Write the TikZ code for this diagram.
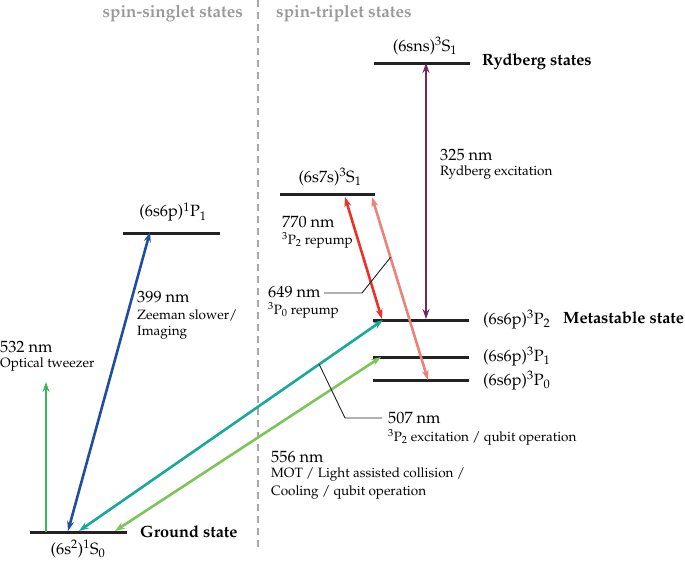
\documentclass[tikz,border=0pt]{standalone}
\usepackage[T1]{fontenc}
\usepackage{mathpazo}
\usetikzlibrary{arrows.meta}
\definecolor{levelc}{HTML}{222222}
\definecolor{headc}{HTML}{9A9A9A}
\definecolor{dashc}{HTML}{A8A8A8}
\definecolor{purplec}{HTML}{6E2A63}
\definecolor{redc}{HTML}{E8322B}
\definecolor{salmonc}{HTML}{E8847A}
\definecolor{bluec}{HTML}{1F4F9C}
\definecolor{tealc}{HTML}{17AA98}
\definecolor{lgreenc}{HTML}{7DC55A}
\definecolor{greenc}{HTML}{3DB65A}
\begin{document}
\begin{tikzpicture}[x=1pt,y=-1pt,
  level/.style={line width=3pt,draw=levelc},
  tip/.tip={Stealth[length=10pt,width=7pt]},
  tr/.style={line width=2.6pt,{tip}-{tip}},
  tru/.style={line width=2.6pt,-{tip}},
  lead/.style={line width=0.9pt,draw=levelc},
  head/.style={text=headc,font=\fontsize{17}{19}\selectfont\bfseries,inner sep=0pt},
  lab/.style={font=\fontsize{16.3}{19}\selectfont,inner sep=0pt,text=black},
  blab/.style={font=\fontsize{16.3}{19}\selectfont\bfseries,inner sep=0pt,text=black},
  wl/.style={font=\fontsize{16.3}{19}\selectfont,inner sep=0pt,anchor=west},
  ds/.style={font=\fontsize{13.5}{16}\selectfont,inner sep=0pt,anchor=west},
]
\useasboundingbox (0,0) rectangle (685,560);

% headers and divider
\node[head,anchor=east] (hs) at (243,14) {spin-singlet states};
\node[head,anchor=west] (ht) at (276,14) {spin-triplet states};
\coordinate (d1) at (258,0);
\coordinate (d2) at (258,548);
\draw[dashc,line width=1.5pt,dash pattern=on 7pt off 5pt] (d1) -- (d2);

% levels
\coordinate (gL) at (30,532);   \coordinate (gR) at (127,532);
\coordinate (pL) at (123,233);  \coordinate (pR) at (220,233);
\coordinate (rL) at (374,63);   \coordinate (rR) at (470,63);
\coordinate (sL) at (280,194);  \coordinate (sR) at (375,194);
\coordinate (p2L) at (373,320); \coordinate (p2R) at (469,320);
\coordinate (p1L) at (373,357); \coordinate (p1R) at (469,357);
\coordinate (p0L) at (373,380); \coordinate (p0R) at (469,380);
\foreach \a/\b in {gL/gR,pL/pR,rL/rR,sL/sR,p2L/p2R,p1L/p1R,p0L/p0R}
  \draw[level] (\a) -- (\b);

% level labels
\node[blab,anchor=west] (gs) at (140,532) {Ground state};
\node[lab] (g0) at (78,549) {(6s$^2$)$^1$S$_0$};
\node[lab] (p1s) at (173,212) {(6s6p)$^1$P$_1$};
\node[lab] (rys) at (425,46) {(6sns)$^3$S$_1$};
\node[blab,anchor=west] (ryb) at (482,62) {Rydberg states};
\node[lab] (s7) at (330,177) {(6s7s)$^3$S$_1$};
\node[lab,anchor=west] (l2) at (483,320) {(6s6p)$^3$P$_2$};
\node[blab,anchor=west] (ms) at (563,318) {Metastable state};
\node[lab,anchor=west] (l1) at (483,357) {(6s6p)$^3$P$_1$};
\node[lab,anchor=west] (l0) at (483,381) {(6s6p)$^3$P$_0$};

% transition end points
\coordinate (a532b) at (46,532);  \coordinate (a532t) at (46,382);
\coordinate (a399b) at (68,531);  \coordinate (a399t) at (150,232);
\coordinate (a507b) at (79,531);  \coordinate (a507t) at (383,320);
\coordinate (a556b) at (115,531); \coordinate (a556t) at (381,357);
\coordinate (a325b) at (426,319); \coordinate (a325t) at (426,63);
\coordinate (a770t) at (345,197); \coordinate (a770b) at (382,319);
\coordinate (a649t) at (372,197); \coordinate (a649b) at (428,380);

% transitions
\draw[tru,greenc] (a532b) -- (a532t);
\draw[tr,bluec] (a399b) -- (a399t);
\draw[tr,tealc] (a507b) -- (a507t);
\draw[tr,lgreenc] (a556b) -- (a556t);
\draw[tr,purplec] (a325b) -- (a325t);
\draw[tr,salmonc] (a649t) -- (a649b);
\draw[tr,redc] (a770t) -- (a770b);

% leaders
\path (a507b) -- (a507t) coordinate[pos=0.79] (q507);
\coordinate (k507) at (345,418);
\coordinate (e507) at (382,418);
\draw[lead] (q507) -- (k507) -- (e507);
\path (a649t) -- (a649b) coordinate[pos=0.33] (q649);
\coordinate (k649) at (362,293);
\coordinate (e649) at (324,293);
\draw[lead] (q649) -- (k649) -- (e649);

% transition labels
\node[wl] (w532) at (0,347) {532 nm};
\node[ds] (d532) at (0,365) {Optical tweezer};
\node[wl] (w399) at (137,297) {399 nm};
\node[ds] (d399a) at (137,315) {Zeeman slower/};
\node[ds] (d399b) at (137,333) {Imaging};
\node[wl] (w325) at (440,155) {325 nm};
\node[ds] (d325) at (440,173) {Rydberg excitation};
\node[wl] (w770) at (282,222) {770 nm};
\node[ds] (d770) at (282,240) {$^3$P$_2$ repump};
\node[wl] (w649) at (268,292) {649 nm};
\node[ds] (d649) at (268,310) {$^3$P$_0$ repump};
\node[wl] (w507) at (388,418) {507 nm};
\node[ds] (d507) at (388,437) {$^3$P$_2$ excitation / qubit operation};
\node[wl] (w556) at (271,457) {556 nm};
\node[ds] (d556a) at (271,475) {MOT / Light assisted collision /};
\node[ds] (d556b) at (271,493) {Cooling / qubit operation};
\end{tikzpicture}
\end{document}
